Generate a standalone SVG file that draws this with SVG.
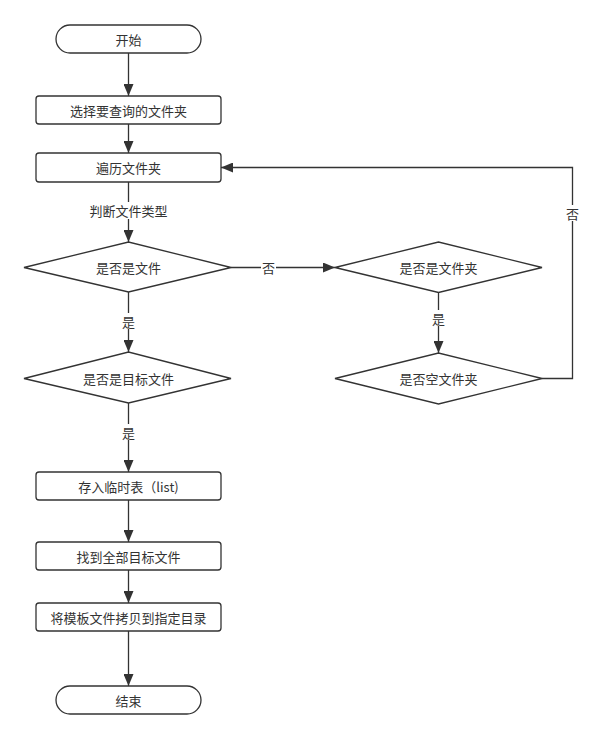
<svg xmlns="http://www.w3.org/2000/svg" width="602" height="739" viewBox="0 0 602 739">
<style>
.n{fill:#fff;stroke:#333;stroke-width:1.3}
.t{font-family:"Noto Sans CJK SC","Liberation Sans",sans-serif;font-size:13px;fill:#333;text-anchor:middle;dominant-baseline:central}
.e{fill:none;stroke:#333;stroke-width:1.3}
.lb{fill:#fff}
</style>
<defs>
<marker id="a" viewBox="0 0 12 10" markerWidth="12" markerHeight="10" refX="12" refY="5" orient="auto" markerUnits="userSpaceOnUse">
<path d="M0,0 L12,5 L0,10 z" fill="#333"/>
</marker>
</defs>
<rect width="602" height="739" fill="#fff"/>
<g id="edges">
<path class="e" d="M128.5,53 V96" marker-end="url(#a)"/>
<path class="e" d="M128.5,124 V153" marker-end="url(#a)"/>
<path class="e" d="M128.5,182 V242" marker-end="url(#a)"/>
<path class="e" d="M128.5,292 V352" marker-end="url(#a)"/>
<path class="e" d="M128.5,403 V472" marker-end="url(#a)"/>
<path class="e" d="M128.5,500 V542" marker-end="url(#a)"/>
<path class="e" d="M128.5,570 V603" marker-end="url(#a)"/>
<path class="e" d="M128.5,631 V686" marker-end="url(#a)"/>
<path class="e" d="M231,267.5 H335" marker-end="url(#a)"/>
<path class="e" d="M438.5,292 V353" marker-end="url(#a)"/>
<path class="e" d="M542,378.5 H572.5 V167.5 H221" marker-end="url(#a)"/>
<rect class="lb" x="89" y="202" width="79" height="17"/>
<text class="t" x="128.5" y="210">判断文件类型</text>
<rect class="lb" x="121" y="313" width="15" height="16"/>
<text class="t" x="128.5" y="321">是</text>
<rect class="lb" x="121" y="424" width="15" height="16"/>
<text class="t" x="128.5" y="432">是</text>
<rect class="lb" x="261" y="259" width="15" height="16"/>
<text class="t" x="268.5" y="267">否</text>
<rect class="lb" x="431" y="310" width="15" height="16"/>
<text class="t" x="438.5" y="318">是</text>
<rect class="lb" x="565" y="205" width="15" height="16"/>
<text class="t" x="572.5" y="213">否</text>
</g>
<g id="start"><rect class="n" x="56" y="25" width="145" height="28" rx="14"/><text class="t" x="128.5" y="39">开始</text></g>
<g id="select"><rect class="n" x="36" y="96" width="185" height="28" rx="3"/><text class="t" x="128.5" y="110">选择要查询的文件夹</text></g>
<g id="traverse"><rect class="n" x="36" y="153" width="185" height="29" rx="3"/><text class="t" x="128.5" y="167">遍历文件夹</text></g>
<g id="isFile"><path class="n" d="M24,267.5 L128.5,242 L231,267.5 L128.5,292 z"/><text class="t" x="128.5" y="267">是否是文件</text></g>
<g id="isFolder"><path class="n" d="M335,267.5 L438.5,242 L542,267.5 L438.5,292.5 z"/><text class="t" x="438.5" y="267">是否是文件夹</text></g>
<g id="isEmpty"><path class="n" d="M335,378.5 L438.5,353 L542,378.5 L438.5,404 z"/><text class="t" x="438.5" y="378">是否空文件夹</text></g>
<g id="isTarget"><path class="n" d="M24,378.5 L128.5,352 L231,378.5 L128.5,403 z"/><text class="t" x="128.5" y="378">是否是目标文件</text></g>
<g id="store"><rect class="n" x="36" y="472" width="185" height="28" rx="3"/><text class="t" x="128.5" y="486">存入临时表（list)</text></g>
<g id="found"><rect class="n" x="36" y="542" width="185" height="28" rx="3"/><text class="t" x="128.5" y="556">找到全部目标文件</text></g>
<g id="copy"><rect class="n" x="36" y="603" width="185" height="28" rx="3"/><text class="t" x="128.5" y="617">将模板文件拷贝到指定目录</text></g>
<g id="end"><rect class="n" x="56" y="686" width="145" height="28" rx="14"/><text class="t" x="128.5" y="700">结束</text></g>
</svg>
